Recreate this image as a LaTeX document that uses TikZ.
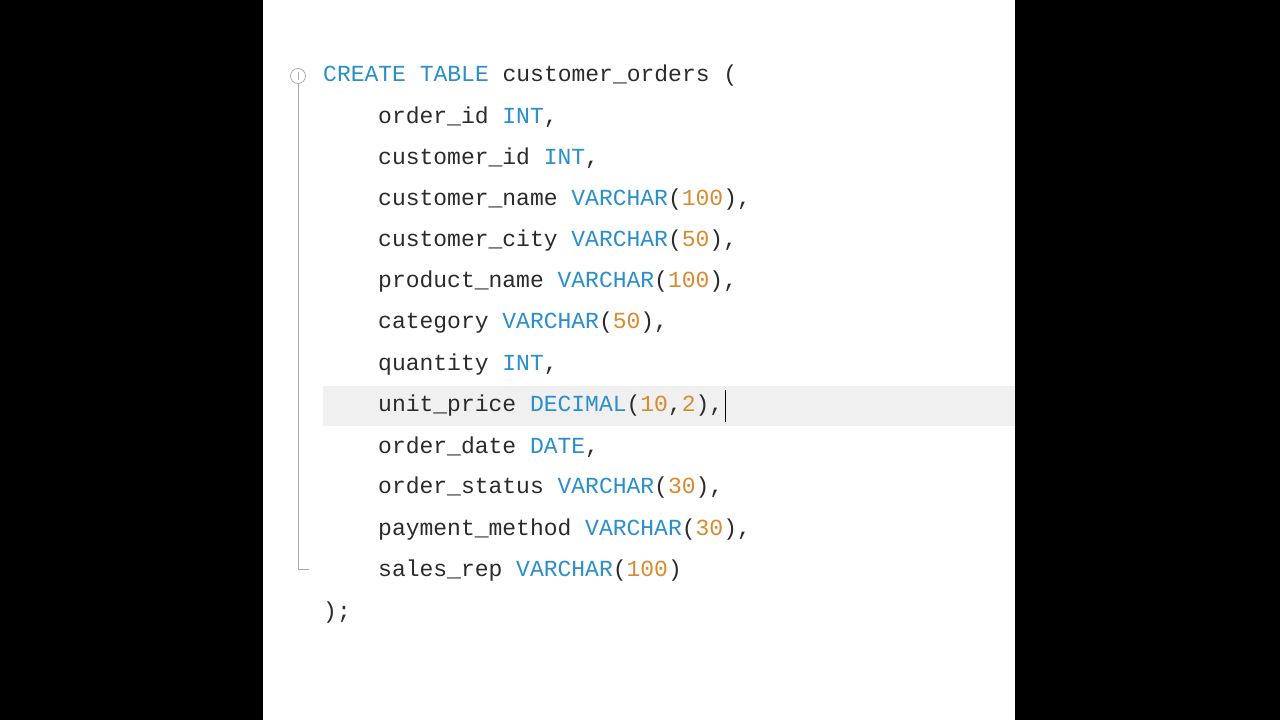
\documentclass[tikz,border=0pt]{standalone}
\usepackage{fontspec}
\setmonofont{Liberation Mono}
\usepackage{xcolor}
\usetikzlibrary{positioning}
\definecolor{kwcolor}{HTML}{2A8FCB}
\definecolor{numcolor}{HTML}{D98A2E}
\definecolor{txtcolor}{HTML}{2B2B2B}
\definecolor{hlcolor}{HTML}{F0F0F0}
\definecolor{guidecolor}{HTML}{AAAAAA}
\newcommand{\kw}[1]{\textcolor{kwcolor}{#1}}
\newcommand{\nm}[1]{\textcolor{numcolor}{#1}}

\begin{document}
\begin{tikzpicture}[x=1pt, y=-1pt,
  code/.style={anchor=west, inner sep=0pt, font=\ttfamily\fontsize{23}{23}\selectfont, text=txtcolor},
]
  \useasboundingbox (0,0) rectangle (1280,720);
  \fill[black] (0,0) rectangle (1280,720);
  \fill[white] (263,0) rectangle (1015,720);
  % Current line
  \fill[hlcolor] (323,386) rectangle (1015,426);

  % Fold marker and guide
  \node[draw=guidecolor, circle, minimum size=15pt, inner sep=0pt, line width=0.8pt] (fold) at (298,76) {};
  \draw[guidecolor, line width=0.8pt] (298,72) -- (298,80);
  \coordinate (guideend) at (309,569);
  \draw[guidecolor, line width=0.8pt] (fold.south) |- (guideend);

  % Code lines
  \node[code] (l1) at (323,76) {\kw{CREATE TABLE} customer\_orders (};
  \node[code] (l2) at (378,117) {order\_id \kw{INT},};
  \node[code] (l3) at (378,158) {customer\_id \kw{INT},};
  \node[code] (l4) at (378,200) {customer\_name \kw{VARCHAR}(\nm{100}),};
  \node[code] (l5) at (378,241) {customer\_city \kw{VARCHAR}(\nm{50}),};
  \node[code] (l6) at (378,282) {product\_name \kw{VARCHAR}(\nm{100}),};
  \node[code] (l7) at (378,323) {category \kw{VARCHAR}(\nm{50}),};
  \node[code] (l8) at (378,365) {quantity \kw{INT},};
  \node[code] (l9) at (378,406) {unit\_price \kw{DECIMAL}(\nm{10},\nm{2}),};
  \node[code] (l10) at (378,447) {order\_date \kw{DATE},};
  \node[code] (l11) at (378,488) {order\_status \kw{VARCHAR}(\nm{30}),};
  \node[code] (l12) at (378,530) {payment\_method \kw{VARCHAR}(\nm{30}),};
  \node[code] (l13) at (378,571) {sales\_rep \kw{VARCHAR}(\nm{100})};
  \node[code] (l14) at (323,613) {);};

  % Caret
  \draw[black, line width=1.5pt] (l9.east) ++(2,-16) -- ++(0,32);
\end{tikzpicture}
\end{document}
